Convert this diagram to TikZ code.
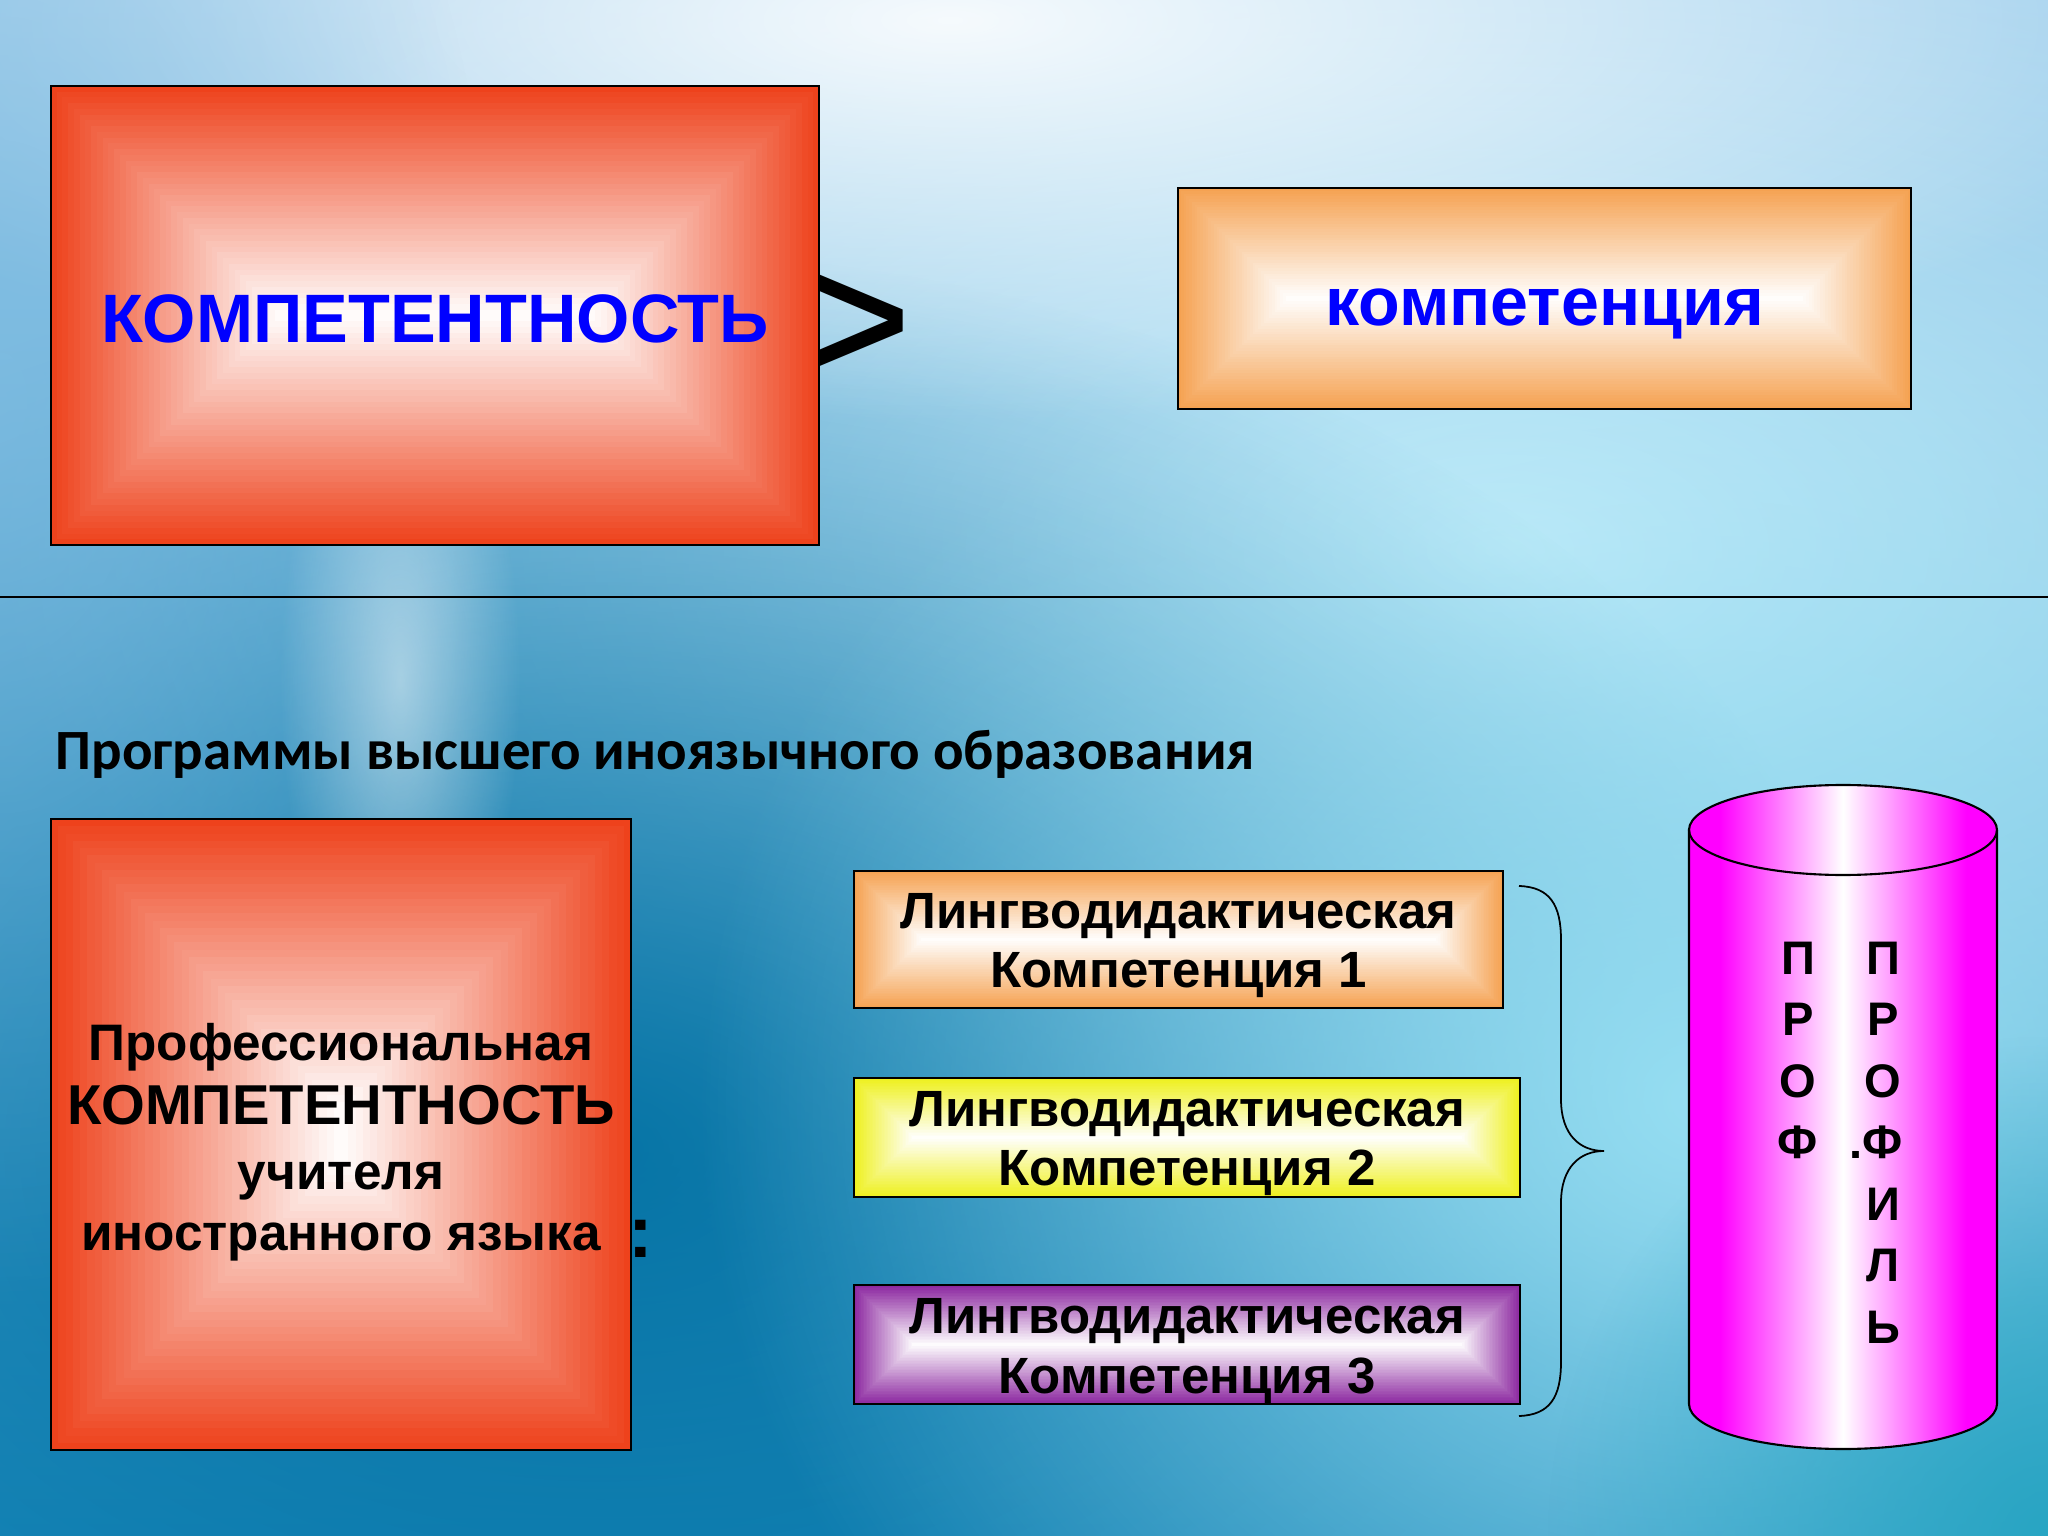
\documentclass[tikz,border=0pt]{standalone}
\usepackage{fontspec}
\setmainfont{Liberation Sans}
\newfontfamily\titlefont{Carlito}
\usetikzlibrary{positioning, calc, fadings}

\definecolor{compred}{RGB}{238,66,28}
\definecolor{lingorange}{RGB}{245,162,82}
\definecolor{lingyellow}{RGB}{238,240,30}
\definecolor{lingpurple}{RGB}{140,40,160}
\definecolor{cylmag}{RGB}{255,0,255}
\definecolor{wordblue}{RGB}{0,0,255}
\definecolor{bgtop}{RGB}{150,200,234}
\definecolor{bgbottom}{RGB}{28,138,188}
\definecolor{bglight}{RGB}{205,240,252}
\definecolor{bgcyan}{RGB}{150,222,242}
\definecolor{bgdark}{RGB}{0,112,162}
\definecolor{bgteal}{RGB}{40,165,195}

\tikzfading[name=soft, inner color=transparent!0, outer color=transparent!100]
\pgfdeclarehorizontalshading{cylshade}{100bp}{color(0bp)=(cylmag); color(30bp)=(cylmag);
  color(50bp)=(white); color(70bp)=(cylmag); color(100bp)=(cylmag)}
\newcommand{\lingtop}{\rule{0pt}{0.47cm}}

\begin{document}
\begin{tikzpicture}[
                glowbox/.style = {draw=black, line width=0.6pt, inner sep=0pt,
                  path picture={
                    \foreach \k [evaluate=\k as \pct using int(100-\k*2.5)] in {0,...,40}
                      \fill[#1!\pct!white] let \p1=(path picture bounding box.south west),
                        \p2=(path picture bounding box.north east),
                        \n1={min(\x2-\x1,\y2-\y1)*\k/80} in
                        (\x1+\n1,\y1+\n1) rectangle (\x2-\n1,\y2-\n1);
                  }},
                bigword/.style = {text=wordblue, text height=0.55cm, text depth=0pt},
                lingbox/.style = {glowbox=#1, minimum width=6.66cm, minimum height=1.19cm,
                  anchor=north west, align=center, font=\fontsize{14.5}{17}\selectfont\bfseries},
                letters/.style = {align=center, inner sep=0pt, anchor=north,
                  font=\fontsize{13.4}{17.5}\selectfont\bfseries},
                blob/.style = {path fading=soft}
              ]
              \useasboundingbox (0,0) rectangle (20.48,-15.36);
              % Background
              \begin{scope}
                \clip (0,0) rectangle (20.48,-15.36);
                \shade[top color=bgtop, bottom color=bgbottom] (0,0) rectangle (20.48,-15.36);
                \fill[bglight, blob] (15,-5.5) ellipse (15cm and 8cm);
                \fill[bgdark, blob, fill opacity=0.9] (6,-11.5) ellipse (13cm and 9cm);
                \fill[bgcyan, blob] (17,-11) ellipse (10cm and 9cm);
                \fill[white, blob, fill opacity=0.9] (9.5,-0.2) ellipse (13cm and 4cm);
                \fill[bgtop!80!bgbottom, blob, fill opacity=0.7] (0,-4) ellipse (5cm and 9cm);
                \fill[bgteal, blob] (20.48,-15.36) ellipse (5cm and 5cm);
                \fill[white, blob, fill opacity=0.5] (4,-6.8) ellipse (1.2cm and 3.4cm);
              \end{scope}
              % Top row
              \node[font=\fontsize{62}{64}\selectfont, inner sep=0pt, anchor=base] (gt) at (8.50,-3.93) {>};
              \node[glowbox=compred, minimum width=7.68cm, minimum height=4.59cm, bigword,
                font=\fontsize{19.5}{22}\selectfont\bfseries] (kness) at (4.35,-3.155) {КОМПЕТЕНТНОСТЬ};
              \node[glowbox=lingorange, minimum width=7.33cm, minimum height=2.21cm, bigword,
                font=\fontsize{19.4}{22}\selectfont\bfseries] (kcy) at (15.445,-2.985) {компетенция};
              \coordinate (sepW) at (0,-5.97);
              \coordinate (sepE) at (20.48,-5.97);
              \draw[line width=0.45pt] (sepW) -- (sepE);
              % Bottom row
              \node[anchor=base west, inner sep=0pt, font=\titlefont\bfseries\fontsize{16.2}{19}\selectfont]
                (title) at (0.55,-7.70) {Программы высшего иноязычного образования};
              \node[font=\fontsize{21}{22}\selectfont\bfseries, inner sep=0pt, anchor=base] (colon) at (6.41,-12.57) {:};
              \node[glowbox=compred, minimum width=5.80cm, minimum height=6.31cm, align=center,
                font=\fontsize{14.6}{16.8}\selectfont\bfseries] (teacher) at (3.41,-11.345)
                {\rule{0pt}{0.525cm}Профессиональная\\[1.5pt] {\fontsize{16}{16.8}\selectfont КОМПЕТЕНТНОСТЬ}\\[1.7pt]
                 учителя\\[0.6pt] иностранного языка};
              \node[lingbox=lingorange, minimum width=6.49cm, minimum height=1.37cm] (ling1) at (8.53,-8.70)
                {\lingtop Лингводидактическая\\Компетенция 1};
              \node[lingbox=lingyellow, below right=0.68cm and 0cm of ling1.south west] (ling2)
                {\lingtop Лингводидактическая\\Компетенция 2};
              \node[lingbox=lingpurple, below right=0.86cm and 0cm of ling2.south west] (ling3)
                {\lingtop Лингводидактическая\\Компетенция 3};
              % Brace
              \draw[line width=0.5pt] (15.19,-8.86) .. controls (15.50,-8.87) and (15.61,-9.05) .. (15.61,-9.40)
                -- (15.61,-10.99) .. controls (15.61,-11.35) and (15.80,-11.51) .. (16.04,-11.51)
                .. controls (15.80,-11.51) and (15.61,-11.67) .. (15.61,-12.03)
                -- (15.61,-13.62) .. controls (15.61,-13.97) and (15.50,-14.15) .. (15.19,-14.16);
              % Cylinder
              \shade[shading=cylshade, draw=black, line width=0.6pt]
                (16.89,-8.30) -- (16.89,-14.04) arc[start angle=180, end angle=360, x radius=1.54cm, y radius=0.45cm]
                -- (19.97,-8.30) arc[start angle=0, end angle=180, x radius=1.54cm, y radius=0.45cm] -- cycle;
              \draw[line width=0.6pt] (16.89,-8.30) arc[start angle=180, end angle=360, x radius=1.54cm, y radius=0.45cm];
              \node[letters] (profA) at (17.98,-9.41) {П\\Р\\О\\Ф};
              \node[letters] (profB) at (18.83,-9.41) {П\\Р\\О\\\llap{.}Ф\\И\\Л\\Ь};
            \end{tikzpicture}
\end{document}
